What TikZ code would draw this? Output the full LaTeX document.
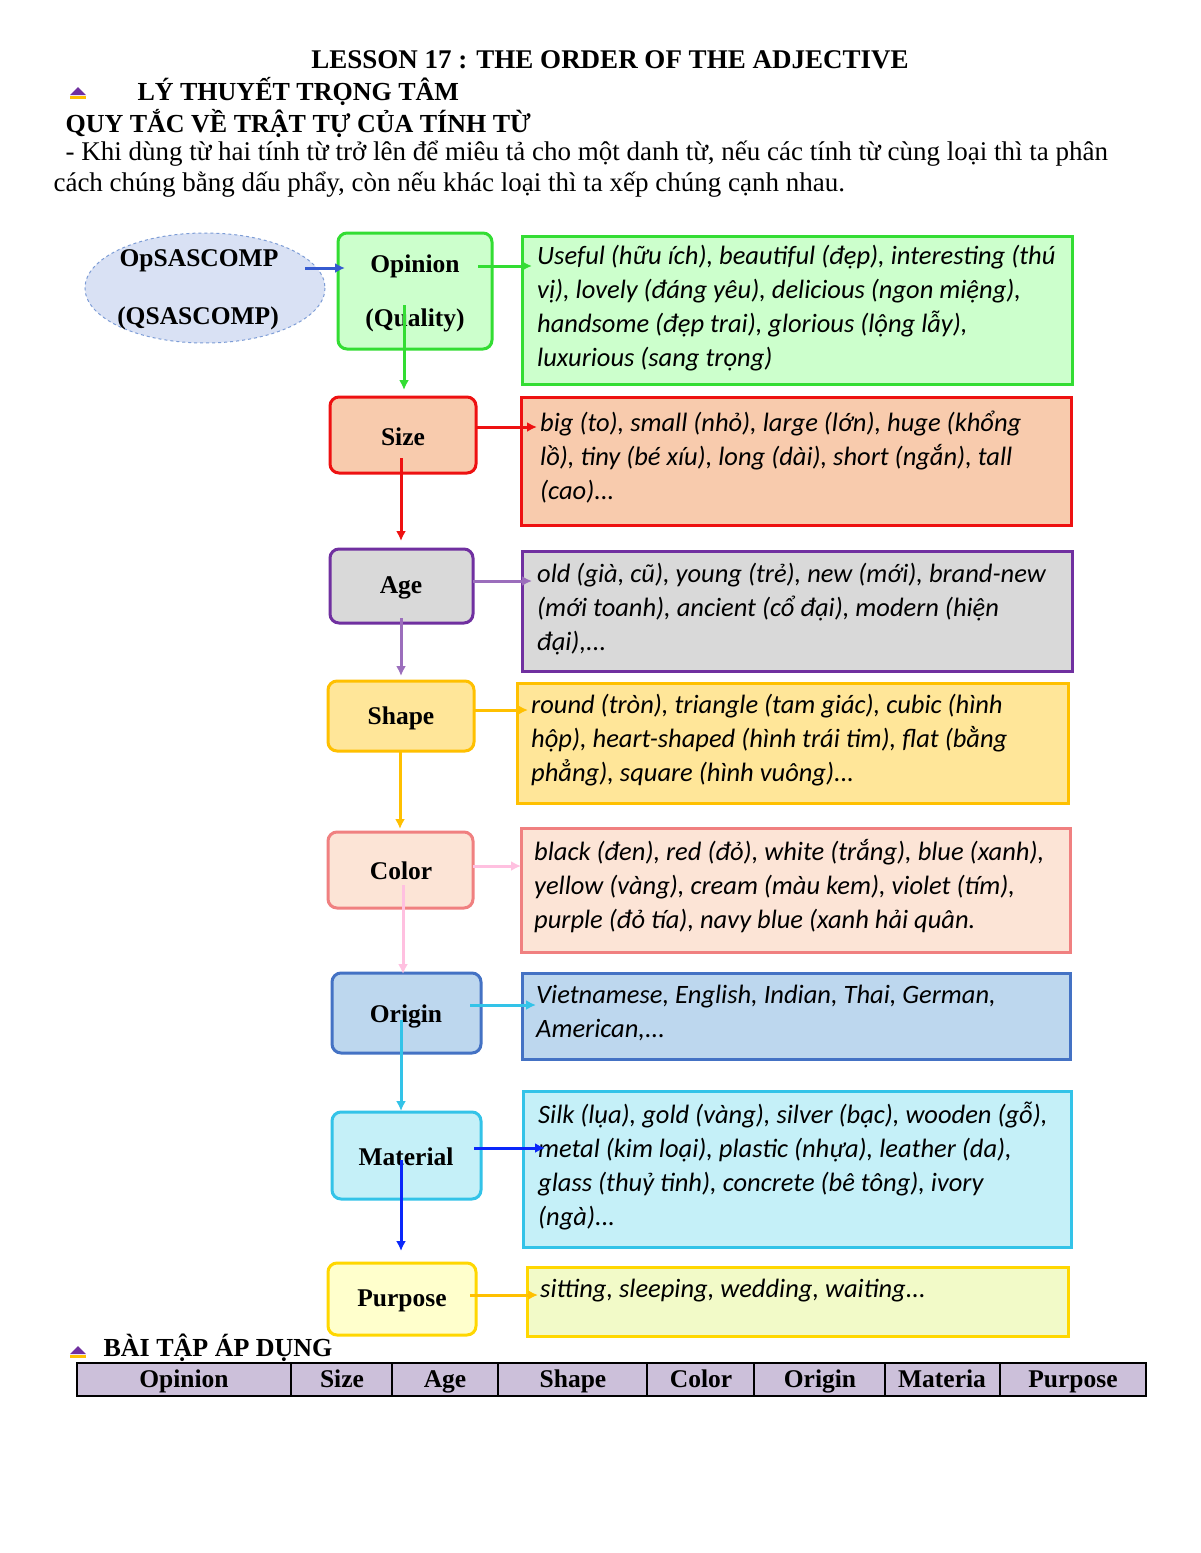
\documentclass[tikz,border=0pt]{standalone}
\usepackage{fontspec}
\setmainfont{Liberation Serif}
\newfontfamily\calfnt{Carlito}
\usetikzlibrary{arrows.meta}
\definecolor{gB}{HTML}{33DD33}\definecolor{gF}{HTML}{CCFFCC}
\definecolor{rB}{HTML}{EE1111}\definecolor{rF}{HTML}{F8CBAD}
\definecolor{pB}{HTML}{7030A0}\definecolor{pF}{HTML}{D9D9D9}
\definecolor{yB}{HTML}{FFC000}\definecolor{yF}{HTML}{FFE699}
\definecolor{cB}{HTML}{F08080}\definecolor{cF}{HTML}{FCE4D6}
\definecolor{oB}{HTML}{4472C4}\definecolor{oF}{HTML}{BDD7EE}
\definecolor{mB}{HTML}{33C3E8}\definecolor{mF}{HTML}{C5F0F8}
\definecolor{uB}{HTML}{FFD700}\definecolor{uF}{HTML}{FFFFCC}\definecolor{uF2}{HTML}{F2FAC8}
\definecolor{eF}{HTML}{D9E1F4}\definecolor{tF}{HTML}{CCC0DA}
\definecolor{pinkA}{HTML}{FFC0E0}
\tikzset{lbox/.style={line width=3pt,rounded corners=9pt},
 rbox/.style={line width=3pt},
 lab/.style={font=\fontsize{25.5}{28}\selectfont\bfseries},
 rt/.style={anchor=north west,align=left,inner sep=0pt,font=\calfnt\itshape\fontsize{26.5}{34}\selectfont},
 arr/.style={line width=3pt,-{Latex[length=10pt,width=10pt]}}}
\begin{document}
\begin{tikzpicture}[x=1pt,y=-1pt]
\useasboundingbox (0,0) rectangle (1200,1553);
\fill[white] (0,0) rectangle (1200,1553);
\node[font=\fontsize{27}{30}\selectfont\bfseries] (title) at (610,60) {LESSON 17 : THE ORDER OF THE ADJECTIVE};
\fill[pB] (70,95) -- (78,87) -- (86,95) -- cycle; \fill[yB] (70,96) rectangle (86,99);
\node[anchor=west,font=\fontsize{26}{30}\selectfont\bfseries] (h1) at (134,91) {LÝ THUYẾT TRỌNG TÂM};
\node[anchor=west,font=\fontsize{26}{30}\selectfont\bfseries] (h2) at (62,123) {QUY TẮC VỀ TRẬT TỰ CỦA TÍNH TỪ};
\node[anchor=west,font=\fontsize{27}{30}\selectfont] (p1) at (62,154) {- Khi dùng từ hai tính từ trở lên để miêu tả cho một danh từ, nếu các tính từ cùng loại thì ta phân};
\node[anchor=west,font=\fontsize{27}{30}\selectfont] (p2) at (50,185) {cách chúng bằng dấu phẩy, còn nếu khác loại thì ta xếp chúng cạnh nhau.};
% ellipse
\fill[eF] (205,288) ellipse (120 and 55);
\draw[oB!70,dashed,line width=1pt] (205,288) ellipse (120 and 55);
\node[lab] (e1) at (199,261) {OpSASCOMP};
\node[lab] (e2) at (198,318) {(QSASCOMP)};
% left boxes
\draw[lbox,draw=gB,fill=gF] (338,233) rectangle (492,349);
\node[lab] (op) at (415,266) {Opinion}; \node[lab] (op2) at (415,320) {(Quality)};
\draw[lbox,draw=rB,fill=rF] (330,397) rectangle (476,473); \node[lab] (sz) at (403,437) {Size};
\draw[lbox,draw=pB,fill=pF] (330,549) rectangle (473,623); \node[lab] (ag) at (401,588) {Age};
\draw[lbox,draw=yB,fill=yF] (328,681) rectangle (474,751); \node[lab] (sh) at (401,718) {Shape};
\draw[lbox,draw=cB,fill=cF] (328,832) rectangle (473,908); \node[lab] (co) at (401,871) {Color};
\draw[lbox,draw=oB,fill=oF] (332,973) rectangle (481,1053); \node[lab] (or) at (406,1016) {Origin};
\draw[lbox,draw=mB,fill=mF] (332,1112) rectangle (481,1199); \node[lab] (ma) at (406,1157) {Material};
\draw[lbox,draw=uB,fill=uF] (328,1263) rectangle (476,1335); \node[lab] (pu) at (402,1301) {Purpose};
% right boxes
\draw[rbox,draw=gB,fill=gF] (522,236) rectangle (1072,384);
\node[rt] (t1) at (537,245) {Useful (hữu ích), beautiful (đẹp), interesting (thú\\vị), lovely (đáng yêu), delicious (ngon miệng),\\handsome (đẹp trai), glorious (lộng lẫy),\\luxurious (sang trọng)};
\draw[rbox,draw=rB,fill=rF] (521,397) rectangle (1071,525);
\node[rt] (t2) at (540,411) {big (to), small (nhỏ), large (lớn), huge (khổng\\lồ), tiny (bé xíu), long (dài), short (ngắn), tall\\(cao)...};
\draw[rbox,draw=pB,fill=pF] (522,551) rectangle (1072,671);
\node[rt] (t3) at (537,563) {old (già, cũ), young (trẻ), new (mới), brand-new\\(mới toanh), ancient (cổ đại), modern (hiện\\đại),...};
\draw[rbox,draw=yB,fill=yF] (517,683) rectangle (1068,803);
\node[rt] (t4) at (531,694) {round (tròn), triangle (tam giác), cubic (hình\\hộp), heart-shaped (hình trái tim), flat (bằng\\phẳng), square (hình vuông)...};
\draw[rbox,draw=cB,fill=cF] (521,828) rectangle (1070,952);
\node[rt] (t5) at (534,839) {black (đen), red (đỏ), white (trắng), blue (xanh),\\yellow (vàng), cream (màu kem), violet (tím),\\purple (đỏ tía), navy blue (xanh hải quân.};
\draw[rbox,draw=oB,fill=oF] (522,973) rectangle (1070,1059);
\node[rt] (t6) at (536,985) {Vietnamese, English, Indian, Thai, German,\\American,...};
\draw[rbox,draw=mB,fill=mF] (523,1091) rectangle (1071,1247);
\node[rt] (t7) at (538,1102) {Silk (lụa), gold (vàng), silver (bạc), wooden (gỗ),\\metal (kim loại), plastic (nhựa), leather (da),\\glass (thuỷ tinh), concrete (bê tông), ivory\\(ngà)...};
\draw[rbox,draw=uB,fill=uF2] (527,1267) rectangle (1068,1336);
\node[rt] (t8) at (540,1279) {sitting, sleeping, wedding, waiting...};
% arrows
\draw[arr,oB!80!blue] (305,268) -- (345,268);
\draw[arr,gB] (478,266) -- (532,266);
\draw[arr,rB] (476,427) -- (537,427);
\draw[arr,pB!70] (473,581) -- (532,581);
\draw[arr,yB] (474,710) -- (528,710);
\draw[arr,pinkA] (473,866) -- (521,866);
\draw[arr,mB] (470,1005) -- (536,1005);
\draw[arr,blue!80!mB] (474,1148) -- (545,1148);
\draw[arr,yB] (470,1295) -- (538,1295);
\draw[arr,gB] (404,305) -- (404,390);
\draw[arr,rB] (401,458) -- (401,541);
\draw[arr,pB!70] (401,618) -- (401,676);
\draw[arr,yB] (400,751) -- (400,829);
\draw[arr,pinkA] (403,885) -- (403,974);
\draw[arr,mB] (401,1020) -- (401,1111);
\draw[arr,blue!80!mB] (401,1160) -- (401,1251);
% bottom
\fill[pB] (70,1354) -- (78,1346) -- (86,1354) -- cycle; \fill[yB] (70,1355) rectangle (86,1358);
\node[anchor=west,font=\fontsize{26}{30}\selectfont\bfseries] (h3) at (100,1348) {BÀI TẬP ÁP DỤNG};
\draw[line width=2pt,fill=tF] (77,1363) rectangle (1146,1396);
\foreach \x in {291,392,498,647,754,885,1000} \draw[line width=1.5pt] (\x,1363) -- (\x,1396);
\foreach \c/\t [count=\i] in {184/Opinion,342/Size,445/Age,573/Shape,701/Color,820/Origin,942/Materia,1073/Purpose}
  \node[font=\fontsize{25.5}{28}\selectfont\bfseries,text height=18pt,text depth=5pt] (c\i) at (\c,1381) {\t};
\end{tikzpicture}
\end{document}
